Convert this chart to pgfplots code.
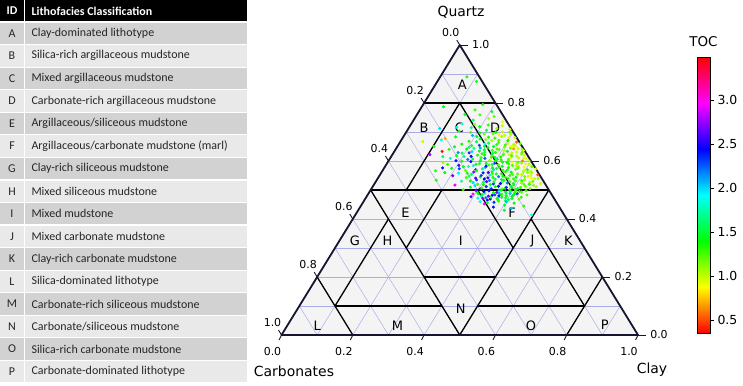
\documentclass[border=0pt]{standalone}
\usepackage{pgfplots}
\pgfplotsset{compat=1.18}
\usepackage{pgfplotstable}
\usepackage{fontspec}
\setmainfont{DejaVu Sans}
\newfontfamily\calfont{Carlito}

\definecolor{rowA}{RGB}{210,210,210}
\definecolor{rowB}{RGB}{233,233,233}
\definecolor{gridc}{RGB}{172,172,232}
\definecolor{edgec}{RGB}{22,22,48}
\definecolor{fillc}{RGB}{244,244,244}

% quartz (q), carbonates (k), TOC (t); clay = 1-q-k
\pgfplotstableread{
q k t
0.890 0.035 1.35
0.874 0.016 1.45
0.787 0.152 1.40
0.776 0.069 1.30
0.759 0.064 1.25
0.770 0.025 1.50
0.753 0.027 1.20
0.761 0.105 1.45
0.746 0.046 1.05
0.741 0.092 1.60
0.735 0.012 0.90
0.728 0.130 1.90
0.795 0.038 1.35
0.724 0.058 1.30
0.721 0.020 1.00
0.718 0.085 1.40
0.715 0.110 1.70
0.712 0.040 1.10
0.709 0.005 0.95
0.706 0.072 1.55
0.703 0.150 1.30
0.700 0.030 1.00
0.712 0.200 2.00
0.697 0.095 1.45
0.694 0.060 1.20
0.691 0.012 1.05
0.688 0.120 2.10
0.685 0.040 1.05
0.682 0.078 1.35
0.680 0.022 0.95
0.678 0.202 0.70
0.676 0.105 1.50
0.673 0.215 1.90
0.671 0.055 1.25
0.668 0.140 1.35
0.667 0.270 1.00
0.665 0.008 0.55
0.662 0.088 1.60
0.660 0.035 0.95
0.658 0.165 1.40
0.656 0.068 1.30
0.654 0.118 2.30
0.652 0.018 1.00
0.650 0.247 1.35
0.649 0.190 1.50
0.648 0.050 1.15
0.646 0.098 1.40
0.644 0.138 1.75
0.642 0.028 0.65
0.641 0.075 1.25
0.640 0.210 1.30
0.638 0.112 1.45
0.636 0.004 0.90
0.635 0.058 1.05
0.633 0.233 0.40
0.632 0.150 2.00
0.630 0.085 1.35
0.628 0.040 1.00
0.627 0.180 1.55
0.625 0.125 1.30
0.624 0.015 1.10
0.622 0.273 2.80
0.621 0.068 1.50
0.619 0.100 1.20
0.618 0.200 1.45
0.617 0.032 1.00
0.616 0.160 2.45
0.614 0.078 1.40
0.612 0.050 0.95
0.611 0.135 1.30
0.609 0.222 1.85
0.608 0.010 0.90
0.606 0.092 1.55
0.605 0.175 2.20
0.603 0.062 1.25
0.602 0.115 1.10
0.600 0.024 0.60
0.599 0.195 1.35
0.598 0.145 1.60
0.596 0.082 1.45
0.595 0.040 1.20
0.594 0.250 1.10
0.593 0.105 2.35
0.590 0.068 1.30
0.589 0.160 1.50
0.588 0.012 1.00
0.586 0.125 1.25
0.585 0.210 2.55
0.583 0.050 1.00
0.582 0.090 1.40
0.581 0.185 1.80
0.579 0.030 0.90
0.578 0.140 2.10
0.577 0.075 1.35
0.575 0.235 1.45
0.574 0.110 1.55
0.572 0.002 0.90
0.571 0.058 1.15
0.570 0.170 2.60
0.568 0.095 1.30
0.567 0.200 1.20
0.566 0.285 1.30
0.564 0.040 1.05
0.563 0.128 1.45
0.561 0.075 1.40
0.560 0.018 1.05
0.559 0.155 2.40
0.558 0.225 1.95
0.556 0.105 1.35
0.555 0.060 1.20
0.554 0.190 1.55
0.552 0.005 0.50
0.551 0.140 1.70
0.550 0.085 1.30
0.549 0.245 2.65
0.547 0.035 0.95
0.546 0.118 2.20
0.545 0.170 1.40
0.544 0.070 1.45
0.543 0.210 1.25
0.542 0.150 2.50
0.540 0.095 1.35
0.539 0.020 1.00
0.537 0.132 1.55
0.536 0.050 1.10
0.535 0.185 2.30
0.534 0.299 1.35
0.533 0.110 1.45
0.531 0.078 1.25
0.530 0.230 1.80
0.529 0.160 2.60
0.527 0.040 1.00
0.526 0.120 1.30
0.525 0.200 2.00
0.523 0.088 1.50
0.522 0.012 1.00
0.521 0.145 2.35
0.519 0.060 1.20
0.518 0.175 1.40
0.517 0.255 2.90
0.514 0.100 1.55
0.513 0.135 2.45
0.511 0.030 1.05
0.510 0.215 1.45
0.509 0.075 1.30
0.507 0.160 1.90
0.506 0.120 1.35
0.505 0.050 1.15
0.504 0.190 2.55
0.502 0.092 1.45
0.501 0.240 1.25
0.500 0.140 2.05
0.498 0.065 1.30
0.497 0.170 2.40
0.496 0.110 1.50
0.494 0.205 1.40
0.493 0.080 1.20
0.492 0.150 2.70
0.490 0.125 1.45
0.489 0.185 1.60
0.487 0.095 2.30
0.486 0.220 3.05
0.485 0.140 1.35
0.483 0.070 1.25
0.482 0.168 2.50
0.481 0.110 1.40
0.479 0.200 1.85
0.478 0.130 1.55
0.477 0.230 2.60
0.475 0.090 1.30
0.474 0.155 2.00
0.472 0.213 1.95
0.471 0.118 1.45
0.469 0.180 2.45
0.468 0.100 1.20
0.463 0.140 1.60
0.460 0.213 1.90
0.458 0.175 2.35
0.455 0.120 1.40
0.452 0.205 3.00
0.448 0.150 1.50
0.445 0.098 1.30
0.441 0.185 2.40
0.437 0.136 2.05
0.430 0.160 1.45
0.414 0.091 1.90
0.655 0.045 1.30
0.651 0.105 1.45
0.647 0.150 1.65
0.643 0.015 0.95
0.639 0.070 1.20
0.634 0.128 1.40
0.631 0.025 0.95
0.629 0.190 2.15
0.626 0.095 1.55
0.623 0.050 1.00
0.620 0.140 1.35
0.613 0.105 1.25
0.610 0.030 1.00
0.607 0.160 1.50
0.604 0.082 1.35
0.601 0.210 2.40
0.597 0.055 0.90
0.592 0.130 1.45
0.591 0.020 0.85
0.587 0.098 1.20
0.584 0.170 1.95
0.580 0.045 1.10
0.576 0.120 1.40
0.573 0.215 2.30
0.569 0.082 1.50
0.565 0.018 1.00
0.562 0.180 2.70
0.557 0.130 1.30
0.553 0.050 1.00
0.548 0.200 1.60
0.544 0.100 1.25
0.541 0.028 0.90
0.538 0.162 2.45
0.532 0.060 1.35
0.528 0.140 1.50
0.524 0.105 2.20
0.520 0.190 1.30
0.516 0.035 1.10
0.512 0.170 2.35
0.508 0.100 1.40
0.503 0.130 1.25
0.499 0.205 2.60
0.495 0.085 1.55
0.491 0.160 1.35
0.488 0.115 2.05
0.484 0.195 1.45
0.480 0.150 2.40
0.476 0.175 1.30
0.473 0.135 1.60
0.470 0.200 2.75
0.466 0.160 1.40
0.588 0.240 1.30
0.576 0.260 2.50
0.560 0.262 1.40
0.615 0.240 1.60
0.683 0.170 1.50
0.699 0.120 1.25
0.716 0.150 1.85
0.726 0.095 1.10
0.698 0.050 1.35
0.693 0.085 1.20
0.689 0.030 1.00
0.684 0.110 1.45
0.679 0.062 1.30
0.674 0.090 1.10
0.670 0.030 1.40
0.666 0.120 1.55
0.663 0.060 1.25
0.659 0.100 1.90
0.657 0.020 1.05
0.653 0.140 1.35
0.650 0.080 1.50
0.645 0.120 2.10
0.645 0.035 1.20
0.641 0.160 1.40
0.637 0.090 1.30
0.633 0.050 1.45
0.630 0.115 1.60
0.628 0.160 2.35
0.625 0.065 1.15
0.621 0.120 1.40
0.618 0.045 1.30
0.615 0.180 1.75
0.612 0.095 1.45
0.609 0.125 2.25
0.606 0.060 1.20
0.603 0.140 1.50
0.600 0.100 1.35
0.598 0.170 2.50
0.595 0.070 1.40
0.593 0.030 1.10
0.590 0.150 1.30
0.588 0.115 1.55
0.585 0.060 1.25
0.582 0.135 2.40
0.580 0.200 1.45
0.578 0.100 1.35
0.575 0.050 1.20
0.573 0.150 1.65
0.570 0.120 2.00
0.568 0.035 1.00
0.566 0.170 1.45
0.563 0.090 1.30
0.560 0.140 2.55
0.558 0.200 1.35
0.555 0.120 1.50
0.553 0.075 1.25
0.550 0.165 2.30
0.548 0.105 1.40
0.546 0.045 1.15
0.543 0.135 1.35
0.541 0.185 2.60
0.538 0.080 1.30
0.536 0.115 1.50
0.533 0.150 2.20
0.531 0.205 1.40
0.529 0.095 1.25
0.527 0.170 1.55
0.524 0.065 1.10
0.522 0.125 2.45
0.519 0.155 1.35
0.517 0.090 1.45
0.515 0.200 2.00
0.513 0.060 1.20
0.511 0.145 1.40
0.509 0.115 2.35
0.507 0.185 1.30
0.505 0.085 1.50
0.503 0.160 2.50
0.501 0.110 1.35
0.499 0.135 1.45
0.497 0.095 1.25
0.495 0.185 2.45
0.493 0.125 1.55
0.491 0.100 1.30
0.489 0.145 2.10
0.487 0.205 1.40
0.485 0.105 1.45
0.483 0.160 2.30
0.481 0.130 1.35
0.479 0.180 2.65
0.477 0.115 1.50
0.475 0.145 1.40
0.473 0.190 2.20
0.471 0.160 1.35
0.467 0.130 1.55
0.465 0.190 2.50
0.462 0.160 1.30
0.459 0.140 2.05
0.456 0.195 1.45
0.640 0.005 1.10
0.620 0.008 0.95
0.600 0.006 1.00
0.580 0.008 1.20
0.560 0.030 1.10
0.540 0.010 1.05
0.660 0.000 1.15
0.680 0.005 1.00
0.700 0.010 1.20
0.690 0.045 0.85
0.670 0.075 1.05
0.650 0.030 0.90
0.630 0.010 1.25
0.610 0.015 0.95
0.590 0.045 1.00
0.570 0.025 1.30
0.550 0.025 0.95
0.530 0.030 1.20
0.520 0.045 1.35
}\tocdata

\newcommand\trow[3]{%
  \pgfmathsetmacro\rtop{364-22.56*#1}%
  \pgfmathsetmacro\rbot{\rtop-22.56}%
  \pgfmathsetmacro\rmid{\rtop-11.28}%
  \ifodd#1\relax\def\rc{rowB}\else\def\rc{rowA}\fi
  \fill[\rc] (0,\rbot) rectangle (247,\rtop);
  \node[text=black!85] at (12,\rmid) {\calfont\fontsize{12}{14}\selectfont #2};
  \node[anchor=west, text=black!85] at (28,\rmid) {\calfont\fontsize{12}{14}\selectfont #3};
}

\begin{document}
\begin{tikzpicture}
\path[use as bounding box] (0bp,0bp) rectangle (743bp,386bp);
% ---- table ----
\begin{scope}[x=1bp,y=1bp]
\fill[black] (0,364) rectangle (247,386);
\node[text=white] at (12,375) {\calfont\bfseries\fontsize{12}{14}\selectfont ID};
\node[anchor=west, text=white] at (28,375) {\calfont\bfseries\fontsize{12}{14}\selectfont Lithofacies Classification};
\trow{0}{A}{Clay-dominated lithotype}
\trow{1}{B}{Silica-rich argillaceous mudstone}
\trow{2}{C}{Mixed argillaceous mudstone}
\trow{3}{D}{Carbonate-rich argillaceous mudstone}
\trow{4}{E}{Argillaceous/siliceous mudstone}
\trow{5}{F}{Argillaceous/carbonate mudstone (marl)}
\trow{6}{G}{Clay-rich siliceous mudstone}
\trow{7}{H}{Mixed siliceous mudstone}
\trow{8}{I}{Mixed mudstone}
\trow{9}{J}{Mixed carbonate mudstone}
\trow{10}{K}{Clay-rich carbonate mudstone}
\trow{11}{L}{Silica-dominated lithotype}
\trow{12}{M}{Carbonate-rich siliceous mudstone}
\trow{13}{N}{Carbonate/siliceous mudstone}
\trow{14}{O}{Silica-rich carbonate mudstone}
\trow{15}{P}{Carbonate-dominated lithotype}
\foreach \i in {0,...,16} {\draw[white, line width=1.2] (0,{364-22.56*\i}) -- (247,{364-22.56*\i});}
\draw[white, line width=1.5] (24.5,0) -- (24.5,386);
% axis titles
\node at (461,374) {\fontsize{14}{16}\selectfont Quartz};
\node at (294,14.5) {\fontsize{14}{16}\selectfont Carbonates};
\node at (652,16) {\fontsize{14}{16}\selectfont Clay};
\node at (703.5,344) {\fontsize{13.5}{15}\selectfont TOC};
\end{scope}

% ---- ternary diagram ----
\begin{axis}[
  at={(281.5bp,51bp)}, anchor=south west,
  scale only axis, width=356.5bp, height=290bp,
  xmin=0, xmax=1, ymin=0, ymax=1,
  hide axis, clip=false,
  colormap={hsvmap}{rgb255=(255,0,0) rgb255=(255,255,0) rgb255=(0,255,0) rgb255=(0,255,255) rgb255=(0,0,255) rgb255=(255,0,255) rgb255=(255,0,0)},
  point meta min=0.35, point meta max=3.49,
  colorbar,
  colorbar style={
    at={(parent axis.south east)}, anchor=south west,
    xshift=50.5bp, yshift=2bp,
    scale only axis, width=13bp, height=276bp,
    ytick={0.5,1.0,1.5,2.0,2.5,3.0},
    ytick pos=right, yticklabel pos=right,
    yticklabel style={font=\fontsize{12.5}{14}\selectfont, /pgf/number format/.cd, fixed, fixed zerofill, precision=1, assume math mode=true},
    major tick length=4bp, tick align=outside,
    tick style={black, line width=0.6bp},
    axis line style={black, line width=0.6bp},
  },
]
\fill[fillc] (axis cs:0,0) -- (axis cs:1,0) -- (axis cs:0.5,1) -- cycle;
\pgfplotsinvokeforeach{1,...,9}{
  \draw[gridc, line width=0.5bp] (axis cs:{#1/20},{#1/10}) -- (axis cs:{1-#1/20},{#1/10});
  \draw[gridc, line width=0.5bp] (axis cs:{#1/10},0) -- (axis cs:{#1/10+(1-#1/10)/2},{1-#1/10});
  \draw[gridc, line width=0.5bp] (axis cs:{1-#1/10},0) -- (axis cs:{(1-#1/10)/2},{1-#1/10});
}
\addplot[scatter, only marks, mark=*, mark size=1.35bp, scatter src=explicit,
  scatter/use mapped color={draw=mapped color, fill=mapped color}]
  table[x expr={1-\thisrow{k}-0.5*\thisrow{q}}, y=q, meta=t] {\tocdata};
% classification boundaries
\begin{scope}[black, line width=1.3bp]
\draw (axis cs:0.4,0.8) -- (axis cs:0.6,0.8);
\draw (axis cs:0.25,0.5) -- (axis cs:0.75,0.5);
\draw (axis cs:0.5,0.8) -- (axis cs:0.35,0.5);
\draw (axis cs:0.5,0.8) -- (axis cs:0.65,0.5);
\draw (axis cs:0.25,0.5) -- (axis cs:0.5,0);
\draw (axis cs:0.75,0.5) -- (axis cs:0.5,0);
\draw (axis cs:0.45,0.5) -- (axis cs:0.35,0.3);
\draw (axis cs:0.55,0.5) -- (axis cs:0.65,0.3);
\draw (axis cs:0.3,0.4) -- (axis cs:0.15,0.1);
\draw (axis cs:0.7,0.4) -- (axis cs:0.85,0.1);
\draw (axis cs:0.1,0.2) -- (axis cs:0.2,0);
\draw (axis cs:0.9,0.2) -- (axis cs:0.8,0);
\draw (axis cs:0.4,0.2) -- (axis cs:0.6,0.2);
\draw (axis cs:0.15,0.1) -- (axis cs:0.45,0.1);
\draw (axis cs:0.55,0.1) -- (axis cs:0.85,0.1);
\end{scope}
\draw[edgec, line width=1.8bp, line join=round] (axis cs:0,0) -- (axis cs:1,0) -- (axis cs:0.5,1) -- cycle;
% ticks
\pgfplotsinvokeforeach{0,0.2,0.4,0.6,0.8,1}{
  \draw[edgec, line width=0.9bp] (axis cs:{#1/2},#1) -- ++(-3bp,5bp);
  \draw[edgec, line width=0.9bp] (axis cs:#1,0) -- ++(-2.5bp,-5bp);
  \draw[edgec, line width=0.9bp] (axis cs:{1-#1/2},#1) -- ++(8bp,0bp);
}
\begin{scope}[font=\fontsize{11}{13}\selectfont]
\node at ([shift={(-9bp,12bp)}]axis cs:0,0) {1.0};
\node at ([shift={(-9bp,12bp)}]axis cs:0.1,0.2) {0.8};
\node at ([shift={(-9bp,12bp)}]axis cs:0.2,0.4) {0.6};
\node at ([shift={(-9bp,12bp)}]axis cs:0.3,0.6) {0.4};
\node at ([shift={(-9bp,12bp)}]axis cs:0.4,0.8) {0.2};
\node at ([shift={(-9bp,12bp)}]axis cs:0.5,1) {0.0};
\node at ([shift={(-9bp,-17bp)}]axis cs:0,0) {0.0};
\node at ([shift={(-9bp,-17bp)}]axis cs:0.2,0) {0.2};
\node at ([shift={(-9bp,-17bp)}]axis cs:0.4,0) {0.4};
\node at ([shift={(-9bp,-17bp)}]axis cs:0.6,0) {0.6};
\node at ([shift={(-9bp,-17bp)}]axis cs:0.8,0) {0.8};
\node at ([shift={(-9bp,-17bp)}]axis cs:1,0) {1.0};
\node at ([shift={(21bp,0bp)}]axis cs:1,0) {0.0};
\node at ([shift={(21bp,0bp)}]axis cs:0.9,0.2) {0.2};
\node at ([shift={(21bp,0bp)}]axis cs:0.8,0.4) {0.4};
\node at ([shift={(21bp,0bp)}]axis cs:0.7,0.6) {0.6};
\node at ([shift={(21bp,0bp)}]axis cs:0.6,0.8) {0.8};
\node at ([shift={(21bp,0bp)}]axis cs:0.5,1) {1.0};
\end{scope}
% region letters
\begin{scope}[font=\fontsize{13}{15}\selectfont]
\node at (axis cs:0.507,0.862) {A};
\node at (axis cs:0.400,0.713) {B};
\node at (axis cs:0.499,0.713) {C};
\node at (axis cs:0.599,0.713) {D};
\node at (axis cs:0.348,0.423) {E};
\node at (axis cs:0.647,0.423) {F};
\node at (axis cs:0.206,0.325) {G};
\node at (axis cs:0.297,0.325) {H};
\node at (axis cs:0.503,0.325) {I};
\node at (axis cs:0.704,0.325) {J};
\node at (axis cs:0.805,0.325) {K};
\node at (axis cs:0.100,0.031) {L};
\node at (axis cs:0.325,0.031) {M};
\node at (axis cs:0.503,0.089) {N};
\node at (axis cs:0.700,0.031) {O};
\node at (axis cs:0.907,0.034) {P};
\end{scope}
\end{axis}
\end{tikzpicture}
\end{document}
